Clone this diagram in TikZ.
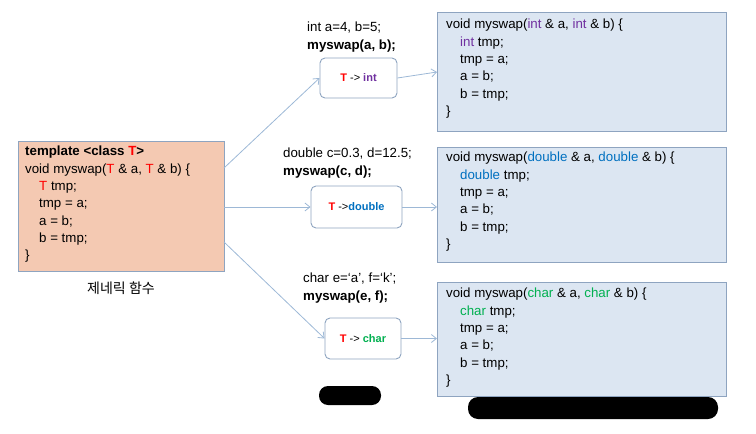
\documentclass[tikz,border=0pt]{standalone}
\usepackage{fontspec}
\setmainfont{Liberation Sans}
\newfontfamily\kor{Noto Sans CJK KR}
\usetikzlibrary{arrows.meta}
\definecolor{salmon}{HTML}{F4C9B2}
\definecolor{lblue}{HTML}{DCE6F2}
\definecolor{bord}{HTML}{8EA4C0}
\definecolor{lnk}{HTML}{9DB8D6}
\definecolor{tr}{HTML}{FF0000}
\definecolor{tp}{HTML}{7030A0}
\definecolor{tb}{HTML}{0070C0}
\definecolor{tg}{HTML}{00B050}
\newcommand{\R}[1]{\textcolor{tr}{#1}}
\begin{document}
\begin{tikzpicture}[x=1pt,y=-1pt,
  code/.style={font=\fontsize{13.3}{17.3}\selectfont,align=left,anchor=north west,inner sep=0},
  big/.style={draw=bord,line width=0.8pt,fill=lblue,minimum width=289pt,anchor=north west,inner sep=0},
  small/.style={draw=bord,line width=0.9pt,rounded corners=5pt,fill=white,font=\fontsize{11}{13}\selectfont,inner sep=0},
  lab/.style={font=\fontsize{13.3}{17.5}\selectfont,align=left,anchor=north west,inner sep=0},
  arr/.style={draw=lnk,line width=0.8pt,-{Straight Barb[length=5pt,width=8pt]}}]
\useasboundingbox (0,0) rectangle (756,434);
% left box
\node[draw=bord,fill=salmon,line width=0.9pt,minimum width=206pt,minimum height=130pt,anchor=north west,inner sep=0] (L) at (18,141) {};
\node[code] at (25,146) {\textbf{template <class \R{T}>}\\void myswap(\R{T} \& a, \R{T} \& b) \{\\
\hspace*{14pt}\R{T} tmp;\\ \hspace*{14pt}tmp = a;\\ \hspace*{14pt}a = b;\\ \hspace*{14pt}b = tmp;\\\}};
\node[font=\kor\fontsize{14}{16}\selectfont] (LL) at (121,288) {제네릭 함수};
% small boxes
\node[small,minimum width=77pt,minimum height=40pt] (s1) at (358.5,78) {\textcolor{tr}{\textbf{T}} -> \textcolor{tp}{\textbf{int}}};
\node[small,minimum width=91pt,minimum height=42pt] (s2) at (356.5,207) {\textcolor{tr}{\textbf{T}} ->\textcolor{tb}{\textbf{double}}};
\node[small,minimum width=76pt,minimum height=41pt] (s3) at (363,338.5) {\textcolor{tr}{\textbf{T}} -> \textcolor{tg}{\textbf{char}}};
\node[lab] (l1) at (307,22) {int a=4, b=5;\\\textbf{myswap(a, b);}};
\node[lab] (l2) at (283,148) {double c=0.3, d=12.5;\\\textbf{myswap(c, d);}};
\node[lab] (l3) at (303,273) {char e=‘a’, f=‘k’;\\\textbf{myswap(e, f);}};
% right boxes
\node[big,minimum height=119pt] (r1) at (437,12) {};
\node[code] at (446,19) {void myswap(\textcolor{tp}{int} \& a, \textcolor{tp}{int} \& b) \{\\
\hspace*{14pt}\textcolor{tp}{int} tmp;\\ \hspace*{14pt}tmp = a;\\ \hspace*{14pt}a = b;\\ \hspace*{14pt}b = tmp;\\\}};
\node[big,minimum height=115pt] (r2) at (437,147) {};
\node[code] at (446,152) {void myswap(\textcolor{tb}{double} \& a, \textcolor{tb}{double} \& b) \{\\
\hspace*{14pt}\textcolor{tb}{double} tmp;\\ \hspace*{14pt}tmp = a;\\ \hspace*{14pt}a = b;\\ \hspace*{14pt}b = tmp;\\\}};
\node[big,minimum height=114pt] (r3) at (437,282) {};
\node[code] at (446,288) {void myswap(\textcolor{tg}{char} \& a, \textcolor{tg}{char} \& b) \{\\
\hspace*{14pt}\textcolor{tg}{char} tmp;\\ \hspace*{14pt}tmp = a;\\ \hspace*{14pt}a = b;\\ \hspace*{14pt}b = tmp;\\\}};
% connectors
\coordinate (a1) at (224,168); \coordinate (a2) at (224,207); \coordinate (a3) at (224,242);
\draw[arr] (a1) -- (s1.west);
\draw[arr] (a2) -- (s2.west);
\draw[arr] (a3) -- (s3.west);
\draw[arr] (s1.east) -- (r1.west |- 0,72);
\draw[arr] (s2.east) -- (r2.west |- s2.east);
\draw[arr] (s3.east) -- (r3.west |- s3.east);
% redactions
\fill[black,rounded corners=9pt] (319,386) rectangle (381,405);
\fill[black,rounded corners=10pt] (468,397) rectangle (718,419);
\end{tikzpicture}
\end{document}
